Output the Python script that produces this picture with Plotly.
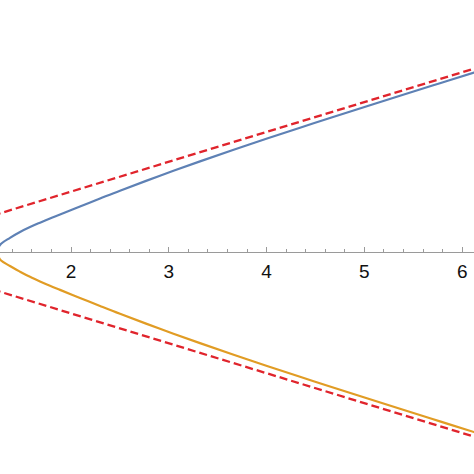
import plotly.graph_objects as go

# Curve samples (x in axis units, y in same units)
x_curve = [1.243, 1.274, 1.376, 1.479, 1.581, 1.683, 1.785, 1.888, 2.092, 2.297,
           2.501, 2.910, 3.319, 3.830, 4.342, 4.648, 5.364, 5.773, 6.121, 6.284]
upper_branch = [0, 0.072, 0.145, 0.205, 0.255, 0.300, 0.343, 0.384, 0.466, 0.547,
                0.627, 0.780, 0.927, 1.102, 1.271, 1.370, 1.598, 1.726, 1.835, 1.886]
lower_branch = [0, -0.075, -0.143, -0.201, -0.254, -0.301, -0.345, -0.387, -0.470, -0.552,
                -0.632, -0.785, -0.932, -1.107, -1.276, -1.375, -1.603, -1.732, -1.841, -1.892]

# Asymptotes (dashed red), endpoints
x_asym = [1.2, 6.3]
upper_asym = [0.373, 1.930]
lower_asym = [-0.383, -1.943]

tick_vals = [2, 3, 4, 5, 6]
tick_text = ["2", "3", "4", "5", "6"]

x_range = [1.274, 6.121]
y_range = [-2.270, 2.577]

fig = go.Figure()
fig.add_trace(go.Scatter(x=x_asym, y=upper_asym, mode="lines",
                         line=dict(color="#E0242C", width=2.3, dash="8px,4px")))
fig.add_trace(go.Scatter(x=x_asym, y=lower_asym, mode="lines",
                         line=dict(color="#E0242C", width=2.3, dash="8px,4px")))
fig.add_trace(go.Scatter(x=x_curve, y=upper_branch, mode="lines",
                         line=dict(color="#5E81B5", width=2.2, shape="spline", smoothing=1)))
fig.add_trace(go.Scatter(x=x_curve, y=lower_branch, mode="lines",
                         line=dict(color="#E19C24", width=2.2, shape="spline", smoothing=1)))

axis_pos = (0 - y_range[0]) / (y_range[1] - y_range[0])

fig.update_layout(
    width=474, height=474,
    margin=dict(l=0, r=0, t=0, b=0, pad=0),
    paper_bgcolor="white", plot_bgcolor="white",
    showlegend=False,
    xaxis=dict(range=x_range, anchor="free", position=axis_pos, automargin=False,
               showline=True, linecolor="#9a9a9a", linewidth=1,
               showgrid=False, zeroline=False,
               tickmode="array", tickvals=tick_vals, ticktext=tick_text,
               ticks="inside", ticklen=5, tickcolor="#9a9a9a", tickwidth=1,
               ticklabelstandoff=2,
               tickfont=dict(family="Liberation Sans, Arial", size=19, color="#111111"),
               minor=dict(dtick=0.2, tick0=0, ticks="inside", ticklen=3,
                          tickcolor="#9a9a9a", tickwidth=1, showgrid=False)),
    yaxis=dict(range=y_range, automargin=False, showgrid=False, zeroline=False,
               showline=False, showticklabels=False, ticks=""),
)

fig.write_html("out.html", config={"displayModeBar": False},
               post_script="document.body.style.margin='0px';document.body.style.overflow='hidden';")
